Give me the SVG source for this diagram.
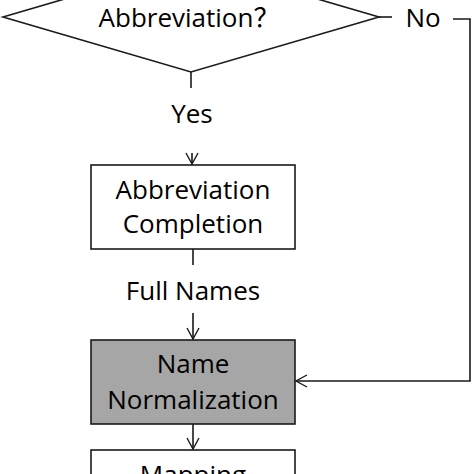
<svg xmlns="http://www.w3.org/2000/svg" width="474" height="474" viewBox="0 0 474 474">
<defs>
<style>
.t{font-family:"Open Sans","Noto Sans CJK SC",sans-serif;font-size:26px;fill:#000;text-anchor:middle}
.s{fill:none;stroke:#1a1a1a;stroke-width:1.6}
.box{fill:#fff;stroke:#1a1a1a;stroke-width:1.6}
</style>
<marker id="a" markerWidth="14" markerHeight="14" refX="12" refY="7" orient="auto" markerUnits="userSpaceOnUse">
<path d="M1,1 L12,7 L1,13" fill="none" stroke="#1a1a1a" stroke-width="1.4"/>
</marker>
</defs>
<rect width="474" height="474" fill="#fff"/>
<g id="decision">
<polygon class="box" points="3,17 191,-38 379,17 191,72"/>
<text class="t" x="189" y="27">Abbreviation？</text>
</g>
<g id="completion">
<rect class="box" x="91" y="165" width="204" height="84"/>
<text class="t" x="193" y="199">Abbreviation</text>
<text class="t" x="193" y="233">Completion</text>
</g>
<g id="normalization">
<rect class="box" x="91" y="340" width="204" height="84" style="fill:#a6a6a6"/>
<text class="t" x="193" y="373">Name</text>
<text class="t" x="193" y="409">Normalization</text>
</g>
<g id="mapping">
<rect class="box" x="91" y="450" width="204" height="40"/>
<text class="t" x="193" y="484">Mapping</text>
</g>
<g id="connectors">
<line class="s" x1="191" y1="72" x2="191" y2="88"/>
<text class="t" x="192" y="123">Yes</text>
<line class="s" x1="192" y1="153" x2="192" y2="164" marker-end="url(#a)"/>
<line class="s" x1="193" y1="249" x2="193" y2="265"/>
<text class="t" x="193" y="300">Full Names</text>
<line class="s" x1="193" y1="313" x2="193" y2="339" marker-end="url(#a)"/>
<line class="s" x1="193" y1="424" x2="193" y2="449" marker-end="url(#a)"/>
<line class="s" x1="379" y1="17" x2="392" y2="17"/>
<text class="t" x="423" y="27">No</text>
<polyline class="s" points="453,19 470,19 470,381 296,381" marker-end="url(#a)"/>
</g>
</svg>
